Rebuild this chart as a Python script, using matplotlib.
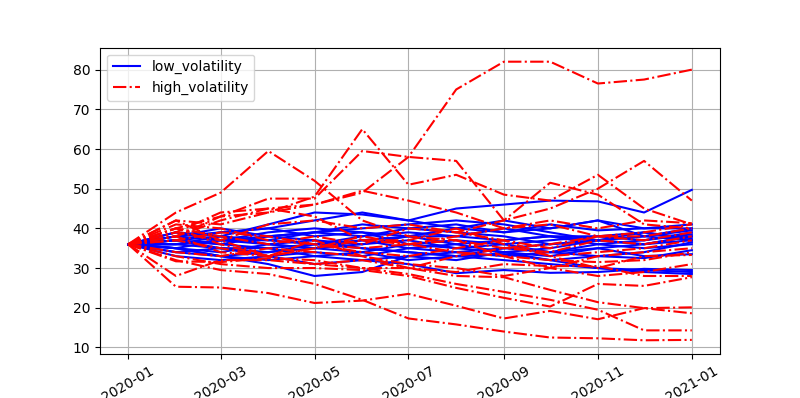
import matplotlib
matplotlib.use("Agg")
import matplotlib.pyplot as plt
import pandas as pd

dates = pd.date_range("2020-01-01", periods=13, freq="MS")

low_volatility = [
    [36, 38, 39, 40, 42, 44, 42, 45, 46, 47, 46.8, 44, 49.7],
    [36, 37, 38, 41, 44, 43.5, 42, 40, 39, 40, 42, 38, 37],
    [36, 35, 33, 31, 28, 29, 33, 32, 34, 33, 35, 36, 38],
    [36, 37, 36, 35, 33, 32, 31, 28.7, 29.5, 28.8, 29, 29.8, 29.5],
    [36, 39, 38, 36, 35, 37, 38, 36, 34, 32, 30, 29, 28.5],
    [36, 35, 37, 38, 39, 38, 40, 41, 39, 41, 39.5, 40, 41],
    [36, 34, 33, 34, 35, 36, 37, 35, 36, 37, 38, 37, 39],
    [36, 38, 40, 38, 37, 35, 34, 33, 35, 36, 37, 38, 40],
    [36, 36, 35, 33, 34, 33, 35, 36, 37, 38, 36, 37, 38.5],
    [36, 33, 32, 33, 31, 32, 33, 34, 33, 34, 36, 35, 36],
    [36, 37, 39, 40, 38, 39, 36, 37, 36, 34, 33, 32.5, 34.5],
    [36, 35, 34, 36, 37, 36, 38, 38, 40, 38, 37, 39, 37.5],
    [36, 38, 37, 37, 39, 40, 41, 42, 41, 39, 37, 36, 37],
    [36, 34, 35, 35, 36, 35, 34, 33, 32, 31, 30, 29.5, 29],
    [36, 37, 36, 38, 39, 41, 40, 39, 38, 36, 37, 38, 39.5],
    [36, 36, 37, 36, 35, 34, 36, 35, 34, 35, 37, 36, 38],
    [36, 39, 37, 39, 40, 39, 38, 40, 42, 40, 42, 40, 40],
    [36, 35, 33, 32, 33, 34, 32, 33, 33.5, 32, 33, 34, 36.5],
    [36, 37, 35, 34, 36, 37, 35, 34, 35, 34, 35, 33, 33.5],
    [36, 36, 38, 37, 36, 38, 39, 38, 37, 38, 38, 39, 37],
]

high_volatility = [
    [36, 38, 43, 44, 46, 49, 58, 75, 82, 82, 76.5, 77.5, 80],
    [36, 44, 49, 59.5, 52, 42, 38, 37, 35, 34, 37, 36, 38],
    [36, 42, 41, 44, 48, 65, 51, 53.5, 48.5, 47, 53.5, 45, 41],
    [36, 40, 43, 47.5, 47.5, 59.5, 58, 57, 42, 45, 50, 57, 47],
    [36, 25.3, 25.1, 23.7, 21.2, 21.8, 23.5, 20.5, 17.3, 19.2, 17.1, 19.9, 20.1],
    [36, 32, 29.5, 28.5, 26, 22, 17.3, 15.8, 14, 12.5, 12.3, 11.8, 11.9],
    [36, 33, 31, 30, 30, 29.5, 28, 25, 22.5, 20.3, 26, 25.5, 27.7],
    [36, 31.7, 31.5, 32.5, 32, 30, 28.5, 26, 24, 22, 19.5, 14.3, 14.3],
    [36, 37, 35, 33, 31, 30, 30, 28, 27.7, 24.5, 21.4, 19.9, 18.6],
    [36, 40, 38, 36, 38, 36, 40, 39, 42, 51.5, 48.5, 41, 40],
    [36, 39, 37, 41, 42, 40, 41, 39, 37, 35, 38, 38, 40],
    [36, 38, 34, 33, 35, 38, 36, 37, 33, 32, 31.5, 32, 34],
    [36, 37, 39, 38, 36, 35, 36, 34, 33, 30, 28, 29, 31],
    [36, 28, 32, 32, 31, 32, 30, 29, 31, 30.5, 30.5, 28, 28],
    [36, 40, 36, 33, 35, 37, 37, 40, 36, 33, 34, 35, 37],
    [36, 38, 42, 45, 46, 49.5, 47, 44, 40, 42, 40, 42, 41.3],
    [36, 42, 37, 33, 37, 33, 30, 33, 35, 36, 38, 37, 39],
    [36, 34, 33, 35, 34, 33, 31, 30, 28, 30, 33, 34, 35],
    [36, 41, 40, 37, 36, 34, 33, 35, 37, 33, 30, 33, 33.3],
    [36, 39, 44, 45, 43, 37, 36, 38, 40, 41, 38, 39, 41],
]

fig, ax = plt.subplots(figsize=(8, 3.98), dpi=100)

for i, s in enumerate(low_volatility):
    ax.plot(dates, s, color="blue", linestyle="-",
            label="low_volatility" if i == 0 else None)
for i, s in enumerate(high_volatility):
    ax.plot(dates, s, color="red", linestyle="-.",
            label="high_volatility" if i == 0 else None)

ax.grid(True)
ax.legend(loc="upper left")
plt.xticks(rotation=30)

plt.savefig("out.png")
